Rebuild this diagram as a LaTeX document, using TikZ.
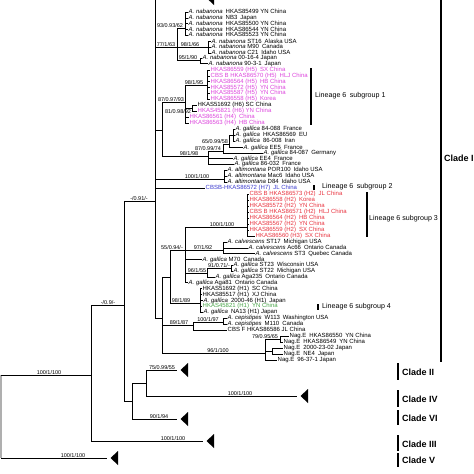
\documentclass[tikz,border=0pt]{standalone}
\usepackage{fontspec}
\setmainfont{Liberation Sans}
\usetikzlibrary{positioning}
\definecolor{linone}{RGB}{220,68,220}
\definecolor{lintwo}{RGB}{58,58,205}
\definecolor{linthree}{RGB}{232,50,62}
\definecolor{linfour}{RGB}{72,165,72}
\definecolor{rootgray}{RGB}{175,175,175}
\newcommand{\Asp}[1]{\textit{A. #1}}
\tikzset{
	limb/.style={draw=black, line width=0.75pt},
	leaf/.style={anchor=west, inner sep=0.5pt, font=\fontsize{6}{6}\selectfont, text height=4.3pt, text depth=1.2pt},
	bsv/.style={anchor=south, inner sep=0.6pt, font=\fontsize{5.5}{5.5}\selectfont},
	cbar/.style={draw=black, line width=1.3pt},
	lineage/.style={anchor=west, inner sep=0pt, font=\fontsize{7.1}{7.1}\selectfont},
	cladelab/.style={anchor=west, inner sep=0pt, font=\fontsize{9}{9}\selectfont\bfseries},
	collapsed/.pic={\fill (3.5,0) -- (11,-7) -- (11,7) -- cycle;},
}
\begin{document}
\begin{tikzpicture}[x=1pt, y=-1pt]
	\useasboundingbox (0,0) rectangle (474,474);
	\clip (0,0) rectangle (474,474);
	% internal nodes
	\coordinate (root) at (1,416);
	\coordinate (A) at (91,375);
	\coordinate (B) at (124,305);
	\coordinate (C) at (132,401);
	\coordinate (D) at (146,383);
	\coordinate (E) at (155,201);
	\coordinate (F) at (177,47);
	\coordinate (nab) at (185,28);
	\coordinate (nabUS) at (208,47);
	\coordinate (nabJP) at (200,60);
	\coordinate (G) at (162,130);
	\coordinate (H) at (185,102);
	\coordinate (hfive) at (207,85);
	\coordinate (hsix) at (192,108);
	\coordinate (J) at (208,156);
	\coordinate (K) at (223,151);
	\coordinate (L) at (229,144);
	\coordinate (M) at (233,135);
	\coordinate (alti) at (224,179);
	\coordinate (N) at (162,318);
	\coordinate (O) at (170,277);
	\coordinate (Q) at (185,250);
	\coordinate (htwo) at (247,227);
	\coordinate (calv) at (223,250);
	\coordinate (T) at (207,273);
	\coordinate (U) at (231,268);
	\coordinate (hone) at (200,303);
	\coordinate (P) at (193,325);
	\coordinate (cepi) at (223,322);
	\coordinate (nag) at (265,353);
	\coordinate (nagYN) at (280,339);
	\coordinate (nagJP) at (272,351);
	% collapsed clades
	\coordinate (cTop) at (203,-2);
	\coordinate (cII) at (177,370);
	\coordinate (cIV) at (297,396);
	\coordinate (cVI) at (177,419);
	\coordinate (cIII) at (203,441);
	\coordinate (cV) at (107,458);
	%
	% tips
	\node[leaf] (t1) at (188,12) {\Asp{nabanona}\enspace HKAS85499 YN China};
	\node[leaf] (t2) at (188,18) {\Asp{nabanona}\enspace NB3\enspace Japan};
	\node[leaf] (t3) at (188,23.5) {\Asp{nabanona}\enspace HKAS85500 YN China};
	\node[leaf] (t4) at (188,29.5) {\Asp{nabanona}\enspace HKAS86544 YN China};
	\node[leaf] (t5) at (188,35) {\Asp{nabanona}\enspace HKAS85523 YN China};
	\node[leaf] (t6) at (211,41.5) {\Asp{nabanona} ST16\enspace Alaska USA};
	\node[leaf] (t7) at (211,47) {\Asp{nabanona} M90\enspace Canada};
	\node[leaf] (t8) at (211,53) {\Asp{nabanona} C21\enspace Idaho USA};
	\node[leaf] (t9) at (202,58) {\Asp{nabanona} 00-16-4 Japan};
	\node[leaf] (t10) at (208,63.5) {\Asp{nabanona} 90-3-1\enspace Japan};
	\node[leaf, linone] (t11) at (210,70) {HKAS86559 (H5)\enspace SX China};
	\node[leaf, linone] (t12) at (210,76) {CBS B HKAS86570 (H5)\enspace HLJ China};
	\node[leaf, linone] (t13) at (210,81.5) {HKAS86564 (H5)\enspace HB China};
	\node[leaf, linone] (t14) at (210,87.5) {HKAS85572 (H5)\enspace YN China};
	\node[leaf, linone] (t15) at (210,93) {HKAS85587 (H5)\enspace YN China};
	\node[leaf, linone] (t16) at (210,99) {HKAS86558 (H5)\enspace Korea};
	\node[leaf] (t17) at (197,105) {HKAS51692 (H6) SC China};
	\node[leaf, linone] (t18) at (197,111) {HKAS45821 (H6) YN China};
	\node[leaf, linone] (t19) at (189,117) {HKAS86561 (H4)\enspace China};
	\node[leaf, linone] (t20) at (189,123) {HKAS86563 (H4)\enspace HB China};
	\node[leaf] (t21) at (235,129) {\Asp{gallica} 84-088\enspace France};
	\node[leaf] (t22) at (235,135) {\Asp{gallica}\enspace HKAS86569\enspace EU};
	\node[leaf] (t23) at (235,141) {\Asp{gallica}\enspace 86-008\enspace Iran};
	\node[leaf] (t24) at (243,147.5) {\Asp{gallica} EE5\enspace France};
	\node[leaf] (t25) at (263,153) {\Asp{gallica} 84-087\enspace Germany};
	\node[leaf] (t26) at (233,158.5) {\Asp{gallica} EE4\enspace France};
	\node[leaf] (t27) at (234,164) {\Asp{gallica} 86-032\enspace France};
	\node[leaf] (t28) at (227,170) {\Asp{altimontana} POR100\enspace Idaho USA};
	\node[leaf] (t29) at (227,176) {\Asp{altimontana} Mac6\enspace Idaho USA};
	\node[leaf] (t30) at (227,182) {\Asp{altimontana} D84\enspace Idaho USA};
	\node[leaf, lintwo] (t31) at (205,188) {CBSB-HKAS86572 (H7)\enspace JL China};
	\node[leaf, linthree] (t32) at (249,194) {CBS B HKAS86573 (H2)\enspace JL China};
	\node[leaf, linthree] (t33) at (249,200) {HKAS86558 (H2)\enspace Korea};
	\node[leaf, linthree] (t34) at (249,206) {HKAS85572 (H2)\enspace YN China};
	\node[leaf, linthree] (t35) at (249,212) {CBS B HKAS86571 (H2)\enspace HLJ China};
	\node[leaf, linthree] (t36) at (249,218) {HKAS86564 (H2)\enspace HB China};
	\node[leaf, linthree] (t37) at (249,224) {HKAS85567 (H2)\enspace YN China};
	\node[leaf, linthree] (t38) at (249,230) {HKAS86559 (H2)\enspace SX China};
	\node[leaf, linthree] (t39) at (255,236) {HKAS86560 (H3)\enspace SX China};
	\node[leaf] (t40) at (227,242) {\Asp{calvescens} ST17\enspace Michigan USA};
	\node[leaf] (t41) at (248,248) {\Asp{calvescens} Ac66\enspace Ontario Canada};
	\node[leaf] (t42) at (255,253.5) {\Asp{calvescens} ST3\enspace Quebec Canada};
	\node[leaf] (t43) at (202,259.5) {\Asp{gallica} M70\enspace Canada};
	\node[leaf] (t44) at (233,265) {\Asp{gallica} ST23\enspace Wisconsin USA};
	\node[leaf] (t45) at (233,271) {\Asp{gallica} ST22\enspace Michigan USA};
	\node[leaf] (t46) at (215,277) {\Asp{gallica} Aga235\enspace Ontario Canada};
	\node[leaf] (t47) at (188,282.5) {\Asp{gallica} Aga81\enspace Ontario Canada};
	\node[leaf] (t48) at (202,288.5) {HKAS51692 (H1)\enspace SC China};
	\node[leaf] (t49) at (202,294.5) {HKAS85517 (H1)\enspace XJ China};
	\node[leaf] (t50) at (203,300.5) {\Asp{gallica}\enspace 2000-46 (H1)\enspace Japan};
	\node[leaf, linfour] (t51) at (202,306) {HKAS45821 (H1)\enspace YN China};
	\node[leaf] (t52) at (203,312) {\Asp{gallica}\enspace NA13 (H1) Japan};
	\node[leaf] (t53) at (227,318) {\Asp{cepistipes}\enspace W113\enspace Washington USA};
	\node[leaf] (t54) at (227,324) {\Asp{cepistipes}\enspace M110\enspace Canada};
	\node[leaf] (t55) at (227,330) {CBS F HKAS86586 JL China};
	\node[leaf] (t56) at (289,336) {Nag.E\enspace HKAS86550\enspace YN China};
	\node[leaf] (t57) at (283,342) {Nag.E\enspace HKAS86549\enspace YN China};
	\node[leaf] (t58) at (283,348) {Nag.E\enspace 2000-23-02 Japan};
	\node[leaf] (t59) at (283,354) {Nag.E\enspace NE4\enspace Japan};
	\node[leaf] (t60) at (277,360) {Nag.E\enspace 96-37-1 Japan};
	%
	% branches
	\draw[rootgray, line width=1.2pt] (A -| root) -- (cV -| root);
	\draw[limb] (A -| root) -- (A);
	\draw[limb] (cV -| root) -- (cV);
	\draw[limb] (A) |- (B);
	\draw[limb] (A) |- (cIII);
	\draw[limb] (B) |- (E);
	\draw[limb] (B) |- (C);
	\draw[limb] (C) |- (D);
	\draw[limb] (C) |- (cVI);
	\draw[limb] (D) |- (cII);
	\draw[limb] (D) |- (cIV);
	\draw[limb] (E) |- (cTop);
	\draw[limb] (E) |- (F);
	\draw[limb] (E) |- (G);
	\draw[limb] (E) |- (alti);
	\draw[limb] (E) |- (t31.west);
	\draw[limb] (E) |- (N);
	\draw[limb] (F) |- (nab);
	\draw[limb] (F) |- (nabUS);
	\draw[limb] (F) |- (nabJP);
	\foreach \t in {t1,t2,t3,t4,t5} \draw[limb] (nab) |- (\t.west);
	\foreach \t in {t6,t7,t8} \draw[limb] (nabUS) |- (\t.west);
	\foreach \t in {t9,t10} \draw[limb] (nabJP) |- (\t.west);
	\draw[limb] (G) |- (H);
	\draw[limb] (G) |- (J);
	\draw[limb] (H) |- (hfive);
	\draw[limb] (H) |- (hsix);
	\foreach \t in {t11,t12,t13,t14,t15,t16} \draw[limb] (hfive) |- (\t.west);
	\foreach \t in {t17,t18} \draw[limb] (hsix) |- (\t.west);
	\foreach \t in {t19,t20} \draw[limb] (H) |- (\t.west);
	\draw[limb] (J) |- (K);
	\foreach \t in {t26,t27} \draw[limb] (J) |- (\t.west);
	\draw[limb] (K) |- (L);
	\draw[limb] (K) |- (t25.west);
	\draw[limb] (L) |- (M);
	\draw[limb] (L) |- (t24.west);
	\foreach \t in {t21,t22,t23} \draw[limb] (M) |- (\t.west);
	\foreach \t in {t28,t29,t30} \draw[limb] (alti) |- (\t.west);
	\draw[limb] (N) |- (O);
	\draw[limb] (N) |- (P);
	\draw[limb] (N) |- (nag);
	\draw[limb] (O) |- (Q);
	\draw[limb] (O) |- (hone);
	\draw[limb] (Q) |- (htwo);
	\draw[limb] (Q) |- (calv);
	\draw[limb] (Q) |- (t43.west);
	\draw[limb] (Q) |- (T);
	\draw[limb] (Q) |- (t47.west);
	\foreach \t in {t32,t33,t34,t35,t36,t37,t38,t39} \draw[limb] (htwo) |- (\t.west);
	\foreach \t in {t40,t41,t42} \draw[limb] (calv) |- (\t.west);
	\draw[limb] (T) |- (U);
	\draw[limb] (T) |- (t46.west);
	\foreach \t in {t44,t45} \draw[limb] (U) |- (\t.west);
	\foreach \t in {t48,t49,t50,t51,t52} \draw[limb] (hone) |- (\t.west);
	\draw[limb] (P) |- (cepi);
	\draw[limb] (P) |- (t55.west);
	\foreach \t in {t53,t54} \draw[limb] (cepi) |- (\t.west);
	\draw[limb] (nag) |- (nagYN);
	\draw[limb] (nag) |- (nagJP);
	\draw[limb] (nag) |- (t60.west);
	\foreach \t in {t56,t57} \draw[limb] (nagYN) |- (\t.west);
	\foreach \t in {t58,t59} \draw[limb] (nagJP) |- (\t.west);
	%
	\foreach \c in {cTop,cII,cIV,cVI,cIII,cV} \pic at (\c) {collapsed};
	%
	% support values
	\node[bsv] (sRoot) at (49,375) {100/1/100};
	\node[bsv] (sV) at (73,458) {100/1/100};
	\node[bsv] (sB) at (108,305) {-/0.9/-};
	\node[bsv] (sIII) at (173,441) {100/1/100};
	\node[bsv] (sE) at (139,201) {-/0.91/-};
	\node[bsv] (sII) at (162,370) {75/0.99/55};
	\node[bsv] (sIV) at (240,396) {100/1/100};
	\node[bsv] (sVI) at (159,419) {90/1/94};
	\node[bsv] (sNag) at (218,353) {96/1/100};
	\node[bsv] (sP) at (179,325) {89/1/87};
	\node[bsv] (sCepi) at (208,322) {100/1/97};
	\node[bsv] (sHone) at (181,303) {98/1/89};
	\node[bsv] (sQ) at (172,250) {55/0.94/-};
	\node[bsv] (sCalv) at (203,250) {97/1/92};
	\node[bsv] (sHtwo) at (222,227) {100/1/100};
	\node[bsv] (sU) at (219,268) {91/0.71/-};
	\node[bsv] (sT) at (197,273) {96/1/55};
	\node[bsv] (sAlti) at (197,179) {100/1/100};
	\node[bsv] (sJ) at (189,156) {98/1/98};
	\node[bsv] (sK) at (208,151) {87/0.99/74};
	\node[bsv] (sL) at (215,144) {65/0.99/58};
	\node[bsv] (sH) at (171,102) {87/0.97/93};
	\node[bsv] (sHfive) at (194,85) {98/1/95};
	\node[bsv, anchor=center] (sHsix) at (178,112) {81/0.98/92};
	\node[bsv] (sF) at (166,47) {77/1/63};
	\node[bsv] (sNab) at (170,28) {93/0.93/62};
	\node[bsv] (sNabUS) at (190,47) {98/1/66};
	\node[bsv] (sNabJP) at (188,60) {95/1/90};
	\node[bsv] (sNagYN) at (265,339) {79/0.95/65};
	%
	% lineages and clades
	\draw[cbar] (311,68) -- (311,125);
	\node[lineage] (lin1) at (315,96) {Lineage 6\enspace subgroup 1};
	\draw[cbar] (314,185) -- (314,190);
	\node[lineage] (lin2) at (322,187) {Lineage 6\enspace subgroup 2};
	\draw[cbar] (367,192) -- (367,237);
	\node[lineage] (lin3) at (369,219) {Lineage 6 subgroup 3};
	\draw[cbar] (318,304) -- (318,310);
	\node[lineage] (lin4) at (322,307) {Lineage 6 subgroup 4};
	\draw[cbar] (441,-5) -- (441,362);
	\node[cladelab] (cladeI) at (444,158) {Clade I};
	\draw[cbar] (398,363) -- (398,380);
	\node[cladelab] (cladeII) at (402,372) {Clade II};
	\draw[cbar] (398,390) -- (398,407);
	\node[cladelab] (cladeIV) at (402,399) {Clade IV};
	\draw[cbar] (398,410) -- (398,425);
	\node[cladelab] (cladeVI) at (402,418) {Clade VI};
	\draw[cbar] (398,435) -- (398,451);
	\node[cladelab] (cladeIII) at (402,444) {Clade III};
	\draw[cbar] (398,453) -- (398,467);
	\node[cladelab] (cladeV) at (402,460) {Clade V};
\end{tikzpicture}
\end{document}
